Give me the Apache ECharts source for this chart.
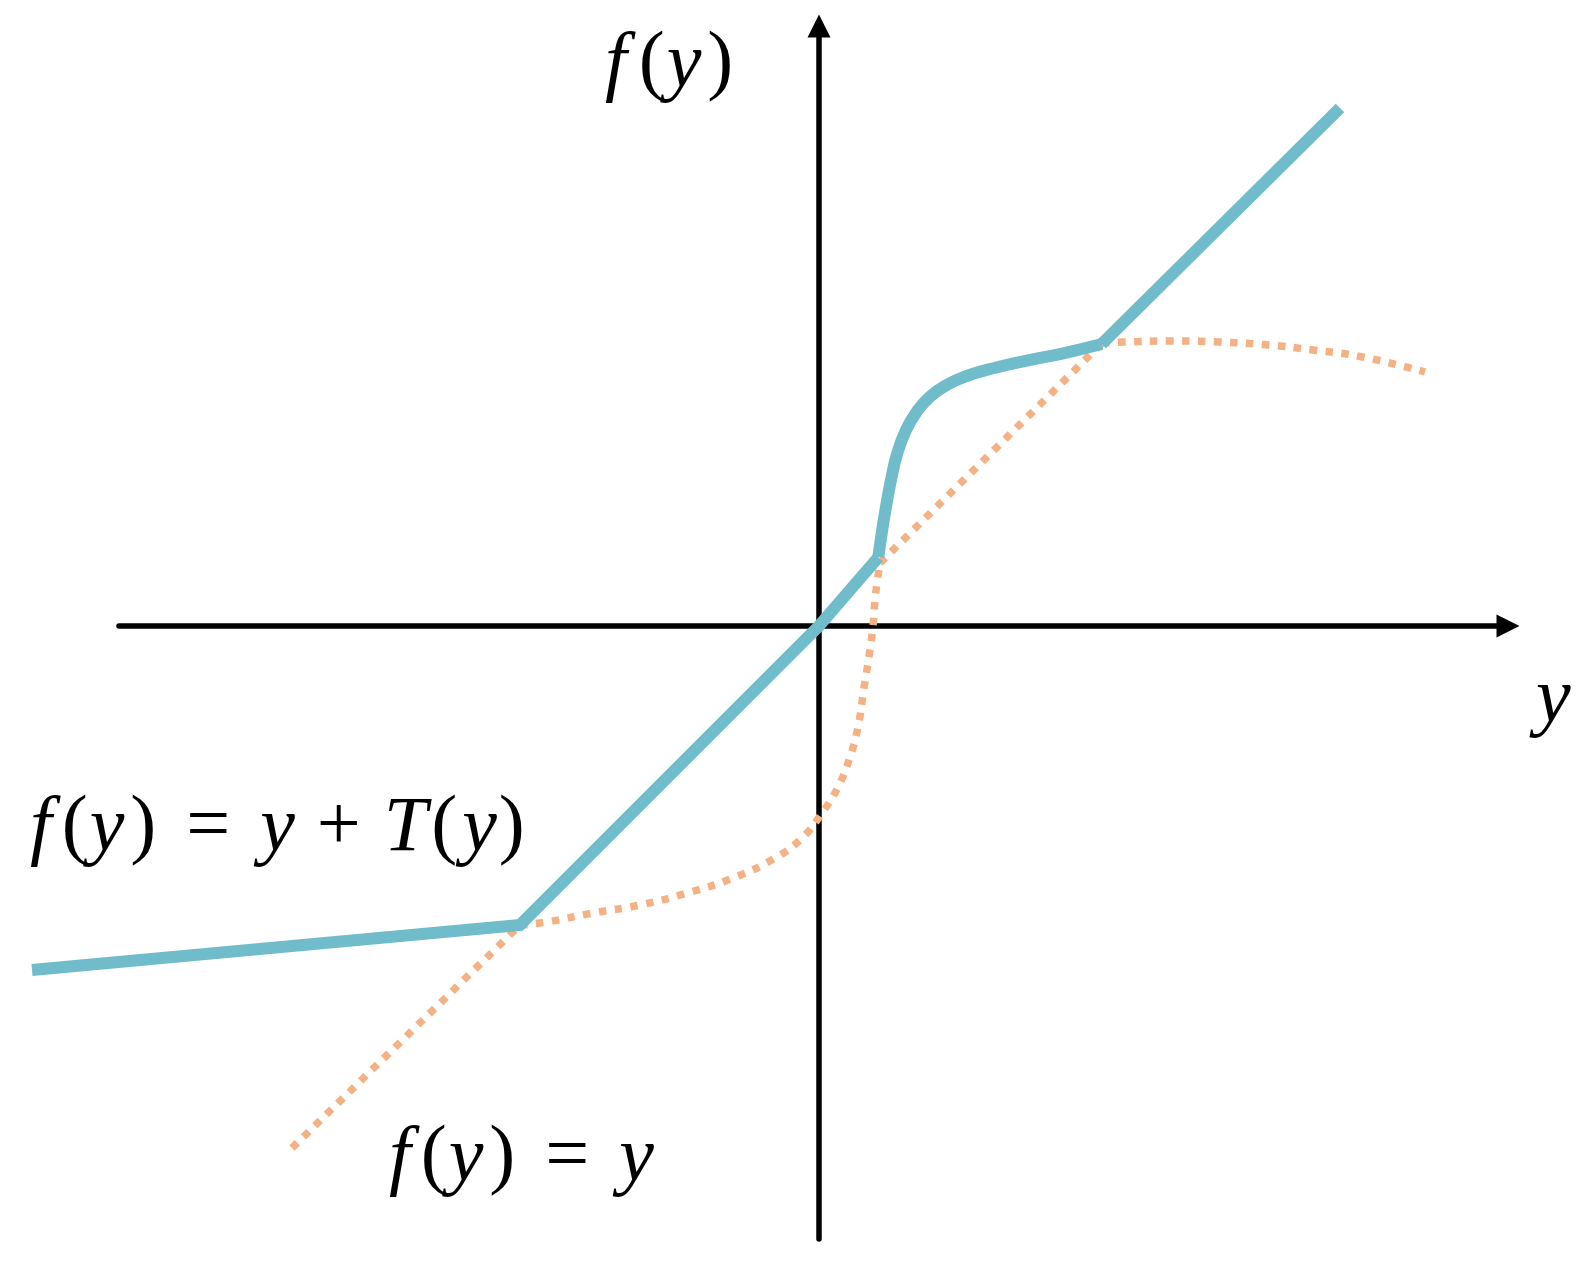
<!DOCTYPE html>
<html><head><meta charset="utf-8">
<script src="https://cdn.jsdelivr.net/npm/echarts@6/dist/echarts.min.js"></script>
<style>html,body{margin:0;padding:0;background:#fff}#c{width:1579px;height:1263px}</style>
</head><body><div id="c"></div>
<script>
// visible axes ranges (conceptual units)
const xRange = [-7.0, 6.89];
const yRange = [-6.13, 6.00];
// full-canvas ranges used for the curves (same scale as the visible axes)
const xFull = [-8.19, 7.60];
const yFull = [-6.37, 6.26];

// f(y) = y + T(y)  (blue)
const blueLow = [[-7.87, -3.44], [-2.99, -2.99], [0, 0], [0.593, 0.687]];
const blueCurve = [[0.593, 0.687], [0.627, 0.927], [0.67, 1.193], [0.72, 1.46], [0.783, 1.727], [0.87, 1.96], [0.977, 2.143], [1.11, 2.293], [1.277, 2.41], [1.477, 2.50], [1.743, 2.577], [2.077, 2.653], [2.443, 2.727], [2.827, 2.82]];
const blueHigh = [[2.827, 2.82], [5.21, 5.18]];

// f(y) = y  (orange dotted)
const orangeLow = [[-5.27, -5.22], [-2.99, -2.99]];
const orangeCurveLow = [[-2.99, -2.99], [-2.72, -2.96], [-2.26, -2.87], [-1.79, -2.79], [-1.32, -2.67], [-0.86, -2.52], [-0.44, -2.32], [-0.17, -2.12], [0.03, -1.87], [0.19, -1.61], [0.31, -1.31], [0.39, -1.01], [0.45, -0.62], [0.50, -0.30], [0.54, 0.00], [0.56, 0.26], [0.58, 0.43], [0.61, 0.63]];
const orangeMid = [[0.61, 0.63], [2.83, 2.83]];
const orangeCurveHigh = [[2.83, 2.83], [3.04, 2.84], [3.5, 2.85], [4.0, 2.84], [4.5, 2.81], [4.94, 2.76], [5.44, 2.69], [6.06, 2.54]];

// text labels: [style, glyph, extra right padding]
const yAxisTitle = [['i', 'f', 12], ['n', '(', 2], ['i', 'y', 6], ['n', ')', 0]];
const xAxisTitle = [['i', 'y', 0]];
const blueLabel = [['i', 'f', 10], ['n', '(', 2], ['i', 'y', 6], ['n', ')', 30], ['n', '=', 30], ['i', 'y', 22], ['n', '+', 23], ['i', 'T', 4], ['n', '(', 5], ['i', 'y', 2], ['n', ')', 0]];
const orangeLabel = [['i', 'f', 10], ['n', '(', 2], ['i', 'y', 6], ['n', ')', 30], ['n', '=', 30], ['i', 'y', 0]];

const BLUE = '#70BCCB';
const ORANGE = '#F4B183';
const FONT = 'Liberation Serif';
const FS = 78;

function richText(tokens) {
  return tokens.map(t => '{' + t[0] + t[2] + '|' + t[1] + '}').join('');
}
function richStyles(tokens) {
  const r = {};
  tokens.forEach(t => {
    r[t[0] + t[2]] = {
      fontFamily: FONT, fontSize: FS, fontStyle: t[0] === 'i' ? 'italic' : 'normal',
      fill: '#000', padding: [0, t[2], 0, 0]
    };
  });
  return r;
}
function label(tokens, x, y) {
  return {
    type: 'text', x: x, y: y, z: 100,
    style: { text: richText(tokens), rich: richStyles(tokens), align: 'left', verticalAlign: 'middle', fill: '#000', font: FS + 'px ' + FONT }
  };
}

const lineBase = (data, color, width, dotted, smooth) => ({
  type: 'line', data: data, xAxisIndex: 1, yAxisIndex: 1,
  showSymbol: false, symbol: 'none', clip: false,
  smooth: smooth ? 0.5 : false,
  silent: true,
  lineStyle: dotted
    ? { color: color, width: 7.5, type: [7.5, 8.5], cap: 'butt', join: 'round' }
    : { color: color, width: width, type: 'solid', cap: 'butt', join: 'miter' }
});

const hiddenAxis = (r) => ({
  type: 'value', min: r[0], max: r[1], show: false, gridIndex: 1,
  axisLine: { show: false }, axisTick: { show: false }, axisLabel: { show: false }, splitLine: { show: false }
});
const visibleAxis = (r) => ({
  type: 'value', min: r[0], max: r[1], gridIndex: 0,
  axisLine: { show: true, onZero: true, symbol: ['none', 'triangle'], symbolSize: [23, 23], lineStyle: { color: '#000', width: 5.5 } },
  axisTick: { show: false }, axisLabel: { show: false }, splitLine: { show: false }
});

const chart = echarts.init(document.getElementById('c'), null, { renderer: 'canvas' });
chart.setOption({
  animation: false,
  backgroundColor: '#ffffff',
  grid: [
    { left: 119, right: 71, top: 26, bottom: 24, containLabel: false },
    { left: 0, right: 0, top: 0, bottom: 0, containLabel: false }
  ],
  xAxis: [visibleAxis(xRange), hiddenAxis(xFull)],
  yAxis: [visibleAxis(yRange), hiddenAxis(yFull)],
  series: [
    lineBase(orangeLow, ORANGE, 0, true, false),
    lineBase(orangeCurveLow, ORANGE, 0, true, true),
    lineBase(orangeMid, ORANGE, 0, true, false),
    lineBase(orangeCurveHigh, ORANGE, 0, true, true),
    lineBase(blueLow, BLUE, 12, false, false),
    lineBase(blueCurve, BLUE, 12, false, true),
    lineBase(blueHigh, BLUE, 12, false, false)
  ],
  graphic: [
    label(yAxisTitle, 605, 65),
    label(xAxisTitle, 1536, 700),
    label(blueLabel, 30, 829),
    label(orangeLabel, 389, 1159)
  ]
});
</script>
</body></html>
